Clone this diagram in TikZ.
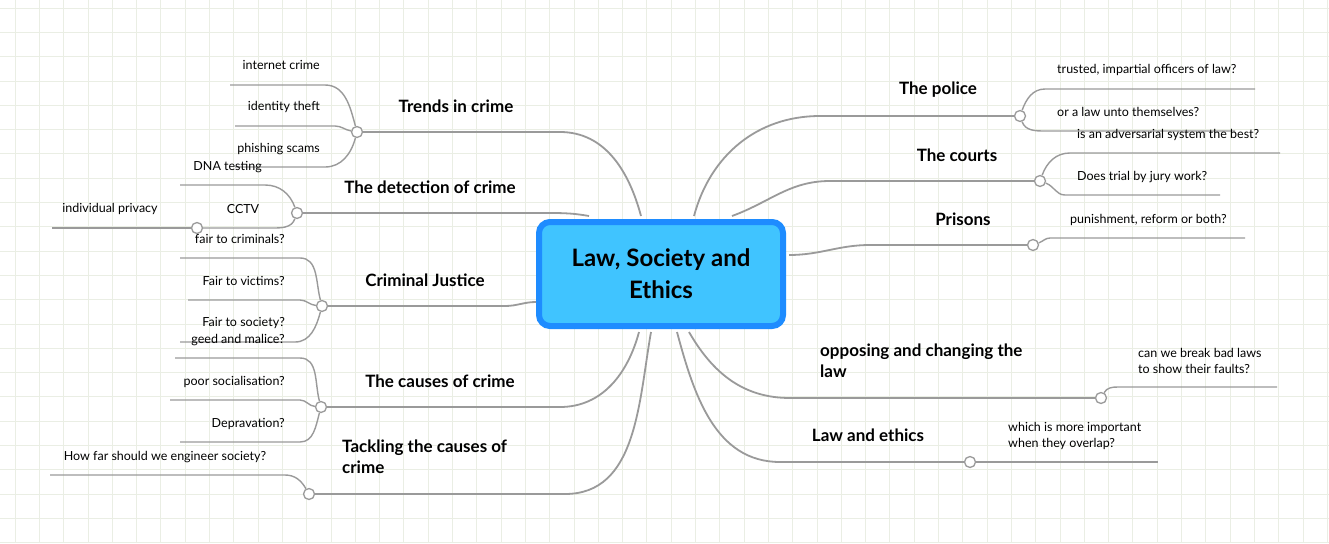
\documentclass[tikz,border=0pt]{standalone}
\usepackage{fontspec}
\setmainfont{Lato}
\usetikzlibrary{calc}
\definecolor{gridc}{HTML}{EAEEE4}
\definecolor{linec}{HTML}{9A9A9A}
\definecolor{boxfill}{HTML}{40C4FF}
\definecolor{boxdraw}{HTML}{1E8CFF}
\tikzset{
 br/.style={draw=linec,line width=1.8pt},
 sb/.style={draw=linec,line width=1.4pt},
 knob/.style={circle,draw=linec,fill=white,line width=1.3pt,inner sep=0pt,minimum size=11pt},
 topic/.style={font=\bfseries\fontsize{17}{21}\selectfont,inner sep=0pt,align=left},
 leaf/.style={font=\fontsize{12.5}{16}\selectfont,inner sep=0pt,align=left},
}
\begin{document}
\begin{tikzpicture}[x=1pt,y=-1pt]
\useasboundingbox (0,0) rectangle (1329,543);
\fill[white] (0,0) rectangle (1329,543);
\foreach \i in {0,...,54} {\draw[gridc,line width=0.8pt] (15+24.3*\i,0) -- (15+24.3*\i,543);}
\foreach \j in {0,...,22} {\draw[gridc,line width=0.8pt] (0,8+24.3*\j) -- (1329,8+24.3*\j);}
% centre
\node[draw=boxdraw,fill=boxfill,line width=6pt,rounded corners=11pt,minimum width=244pt,minimum height=104pt,align=center,font=\bfseries\fontsize{24}{32}\selectfont] (c) at (661,274) {Law, Society and\\Ethics};
% ---------- left branches
% Trends
\node[knob] (k1) at (357,132) {};
\node[topic] (t1) at (456,106) {Trends in crime};
\draw[br] (k1) -- (560,132) to[out=0,in=105] ($(c.north west)+(105,-3)$);
\node[leaf,anchor=east] (l11) at (320,65) {internet crime};
\node[leaf,anchor=east] (l12) at (320,107) {identity theft};
\node[leaf,anchor=east] (l13) at (320,149) {phishing scams};
\coordinate (e11) at (325,85); \coordinate (e12) at (335,126); \coordinate (e13) at (325,167);
\draw[sb] (230,85) -- (e11) to[out=0,in=105] (k1);
\draw[sb] (235,126) -- (e12) to[out=0,in=170] (k1);
\draw[sb] (235,167) -- (e13) to[out=0,in=-105] (k1);
% Detection
\node[knob] (k2) at (297,213) {};
\node[topic] (t2) at (430,187) {The detection of crime};
\draw[br] (k2) -- (540,213) to[out=0,in=170] ($(c.north west)+(53,-3)$);
\node[leaf,anchor=east] (l21) at (262,167) {DNA testing};
\node[leaf] (l22) at (243,209) {CCTV};
\node[knob] (k3) at (197,228) {};
\node[leaf] (l31) at (110,209) {individual privacy};
\draw[sb] (180,185) -- (265,185) to[out=0,in=110] (k2);
\draw[sb] (k3) -- (270,228) to[out=0,in=-110] (k2);
\draw[sb] (52,228) -- (k3);
% Criminal Justice
\node[knob] (k4) at (322,306) {};
\node[topic] (t4) at (425,280) {Criminal Justice};
\draw[br] (k4) -- (505,306) to[out=0,in=180] ($(c.north west)+(0,83)$);
\node[leaf,anchor=east] (l41) at (285,239) {fair to criminals?};
\node[leaf,anchor=east] (l42) at (285,281) {Fair to victims?};
\node[leaf,anchor=east] (l43) at (285,323) {Fair to society?};
\draw[sb] (180,258) -- (300,258) to[out=0,in=105] (k4);
\draw[sb] (188,300) -- (300,300) to[out=0,in=175] (k4);
\draw[sb] (180,342) -- (295,342) to[out=0,in=-105] (k4);
% Causes
\node[knob] (k5) at (321,407) {};
\node[topic] (t5) at (440,381) {The causes of crime};
\draw[br] (k5) -- (560,407) to[out=0,in=-105] ($(c.south west)+(103,3)$);
\node[leaf,anchor=east] (l51) at (285,340) {geed and malice?};
\node[leaf,anchor=east] (l52) at (285,382) {poor socialisation?};
\node[leaf,anchor=east] (l53) at (285,424) {Depravation?};
\draw[sb] (175,358) -- (300,358) to[out=0,in=105] (k5);
\draw[sb] (170,400) -- (300,400) to[out=0,in=175] (k5);
\draw[sb] (180,442) -- (300,442) to[out=0,in=-105] (k5);
% Tackling
\node[knob] (k6) at (309,494) {};
\node[topic,anchor=west] (t6) at (342,457) {Tackling the causes of\\crime};
\draw[br] (k6) -- (565,494) to[out=0,in=-100] ($(c.south west)+(115,3)$);
\node[leaf] (l61) at (165,457) {How far should we engineer society?};
\draw[sb] (50,475) -- (285,475) to[out=0,in=120] (k6);
% ---------- right branches
% Police
\node[knob] (k7) at (1020,116) {};
\node[topic] (t7) at (938,90) {The police};
\draw[br] ($(c.north west)+(158,-3)$) to[out=75,in=180] (820,116) -- (k7);
\node[leaf,anchor=west] (l71) at (1057,70) {trusted, impartial officers of law?};
\node[leaf,anchor=west] (l72) at (1057,112) {or a law unto themselves?};
\draw[sb] (k7) to[out=70,in=180] (1045,89) -- (1255,89);
\draw[sb] (k7) to[out=-70,in=180] (1045,131) -- (1235,131);
% Courts
\node[knob] (k8) at (1040,181) {};
\node[topic] (t8) at (957,155) {The courts};
\draw[br] ($(c.north west)+(196,-3)$) to[out=20,in=180] (830,181) -- (k8);
\node[leaf,anchor=west] (l81) at (1077,135) {is an adversarial system the best?};
\node[leaf,anchor=west] (l82) at (1077,177) {Does trial by jury work?};
\draw[sb] (k8) to[out=70,in=180] (1070,153) -- (1280,153);
\draw[sb] (k8) to[out=-20,in=180] (1065,195) -- (1220,195);
% Prisons
\node[knob] (k9) at (1033,245) {};
\node[topic] (t9) at (963,219) {Prisons};
\draw[br] ($(c.north east)+(3,36)$) to[out=0,in=180] (870,245) -- (k9);
\node[leaf,anchor=west] (l91) at (1070,220) {punishment, reform or both?};
\draw[sb] (k9) to[out=20,in=180] (1050,238) -- (1245,238);
% Opposing
\node[knob] (k10) at (1101,398) {};
\node[topic,anchor=west] (t10) at (820,361) {opposing and changing the\\law};
\draw[br] ($(c.south west)+(153,3)$) to[out=-60,in=180] (790,398) -- (k10);
\node[leaf,anchor=west] (l101) at (1138,361) {can we break bad laws\\to show their faults?};
\draw[sb] (k10) to[out=60,in=180] (1118,387) -- (1277,387);
% Law and ethics
\node[knob] (k11) at (970,462) {};
\node[topic] (t11) at (868,435) {Law and ethics};
\draw[br] ($(c.south west)+(141,3)$) to[out=-75,in=180] (780,462) -- (k11);
\node[leaf,anchor=west] (l111) at (1008,436) {which is more important\\when they overlap?};
\draw[sb] (k11) -- (1158,462);
\end{tikzpicture}
\end{document}
